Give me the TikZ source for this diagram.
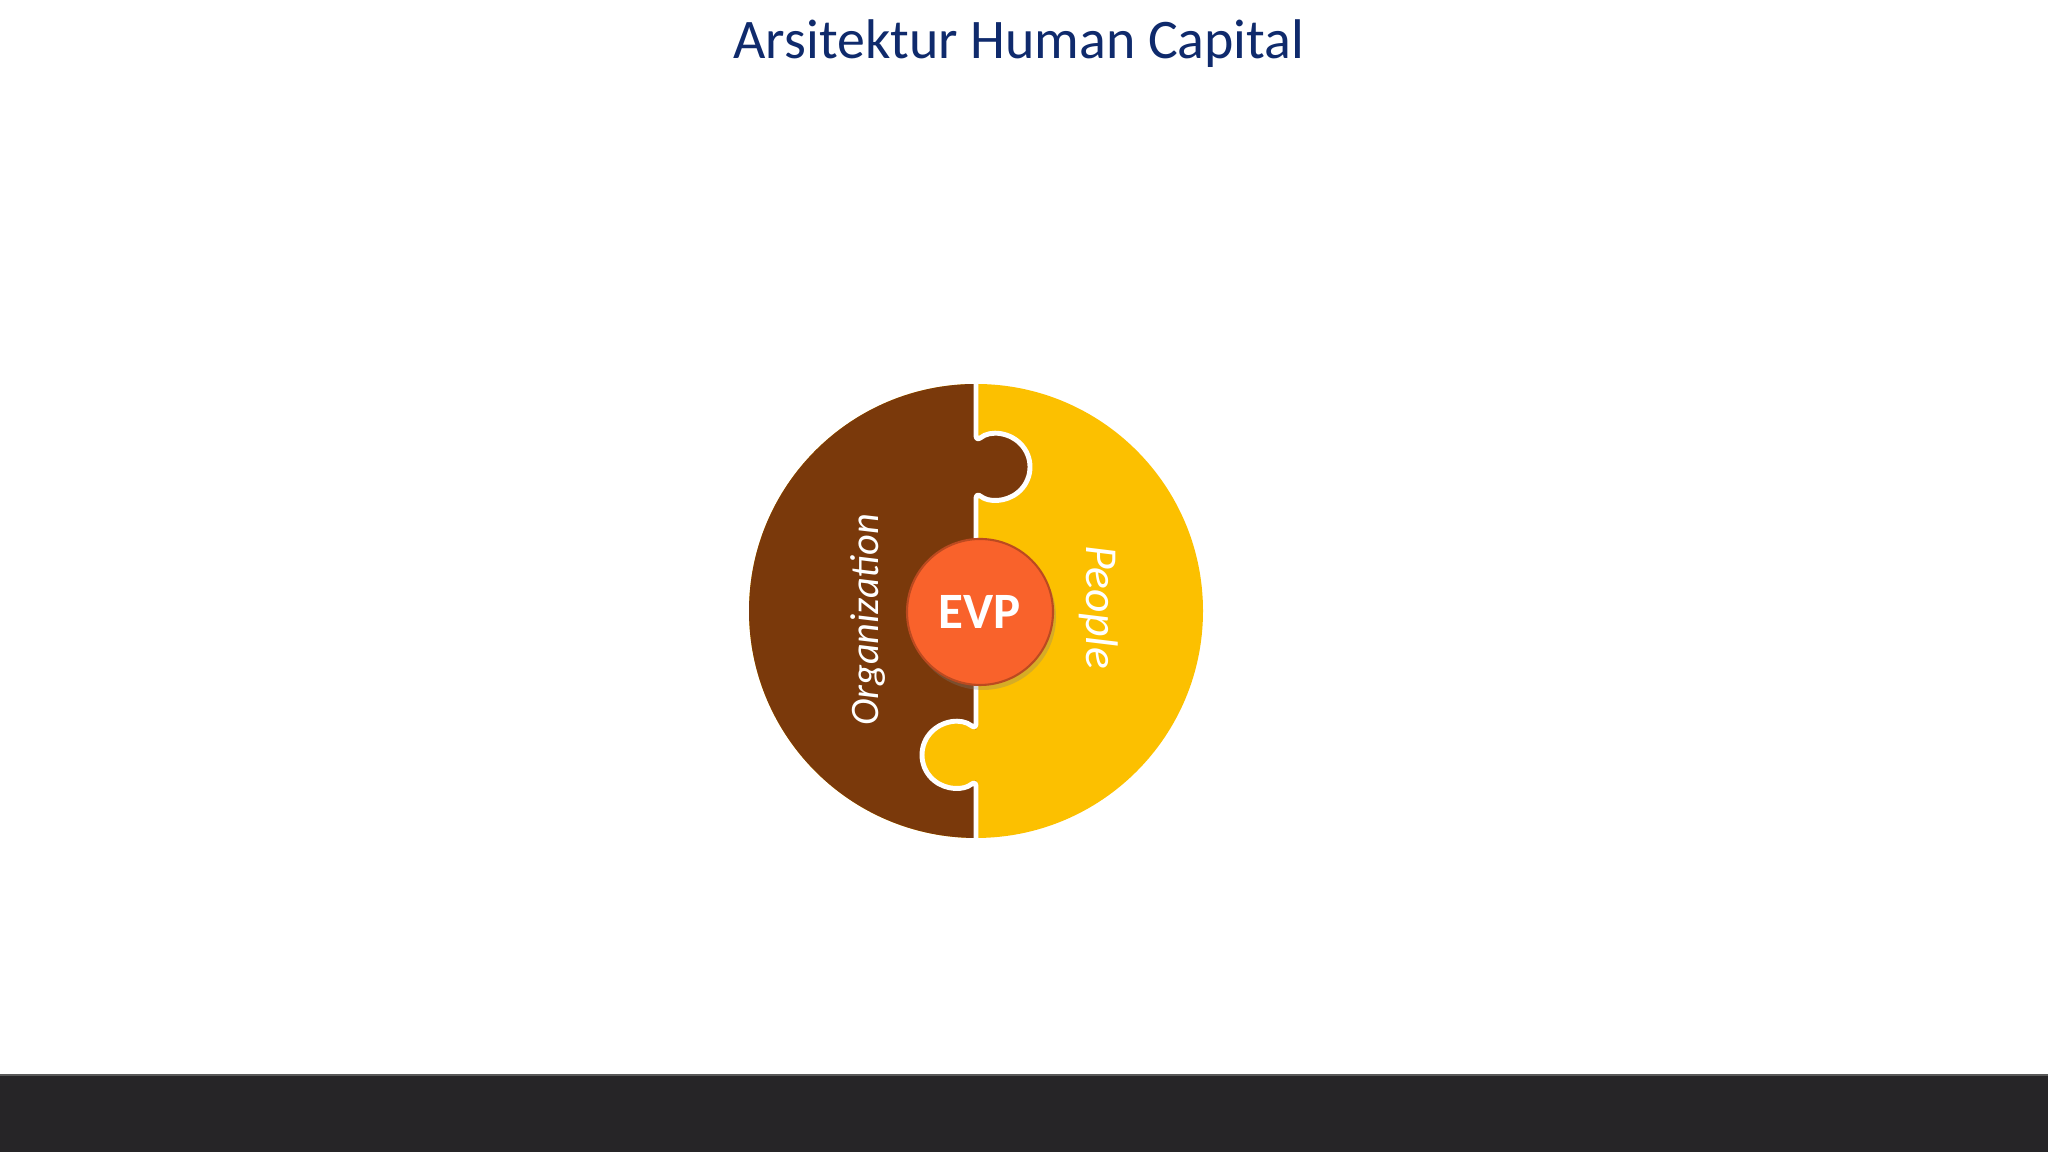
\documentclass[tikz,border=0pt]{standalone}
\usepackage{fontspec}
\setmainfont{Carlito}
\usetikzlibrary{shadows}

\definecolor{orgbrown}{HTML}{7A390B}
\definecolor{pplyellow}{HTML}{FCC000}
\definecolor{evporange}{HTML}{F9622B}
\definecolor{titleblue}{HTML}{0F2A6C}
\definecolor{barblack}{HTML}{262527}

\begin{document}
\begin{tikzpicture}[x=0.1mm, y=0.1mm,
	piece label/.style={text=white, font=\itshape\fontsize{11.5}{13}\selectfont, anchor=base},
	seam/.style={draw=white, line width=1.4pt, line join=round, rounded corners=0.6mm}]
	\useasboundingbox (0,0) rectangle (2048,1152);
	\fill[barblack] (0,0) rectangle (2048,77);
	\draw[black!65, line width=0.4pt] (0,77) -- (2048,77);
	\node[text=titleblue, font=\fontsize{15.9}{19}\selectfont, anchor=base] (title) at (1019,1093) {Arsitektur Human Capital};
	
	% the two puzzle halves
	\coordinate (c) at (976,541);
	\fill[pplyellow] (c) circle[radius=227];
	\fill[orgbrown] (976,768) -- (976,710.46) arc[start angle=129.52, end angle=-129.52, radius=33]
		-- (976,422.46) arc[start angle=50.48, end angle=309.52, radius=33]
		-- (976,314) arc[start angle=270, end angle=90, radius=227] -- cycle;
	\draw[seam] (976,772) -- (976,710.46) arc[start angle=129.52, end angle=-129.52, radius=33]
		-- (976,422.46) arc[start angle=50.48, end angle=309.52, radius=33] -- (976,310);
	
	\node[piece label, rotate=90] (org) at (878,532) {Organization};
	\node[piece label, rotate=-90, font=\itshape\fontsize{13}{15}\selectfont] (ppl) at (1086,545) {People};
	
	\node[circle, minimum size=14.6mm, inner sep=0pt, fill=evporange, draw=evporange!75!black, line width=0.6pt,
		drop shadow={shadow xshift=0.3mm, shadow yshift=-0.5mm, opacity=0.3},
		text=white, font=\bfseries\fontsize{14.5}{16}\selectfont] (evp) at (980,540) {EVP};
\end{tikzpicture}
\end{document}
